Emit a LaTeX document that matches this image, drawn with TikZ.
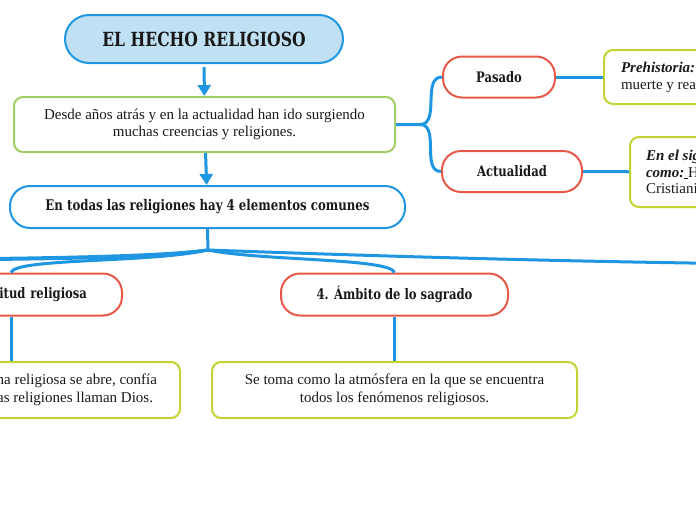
\documentclass[tikz,border=0pt]{standalone}
\usepackage{fontspec}
\setmainfont{Liberation Serif}
\newfontfamily\headfont{DejaVu Serif}[FakeStretch=0.8]
\usetikzlibrary{arrows.meta,positioning}
\definecolor{wire}{RGB}{30,150,225}
\definecolor{sky}{RGB}{192,225,243}
\definecolor{leaf}{RGB}{160,205,100}
\definecolor{lime}{RGB}{195,212,50}
\definecolor{coral}{RGB}{232,88,72}
\definecolor{ink}{RGB}{25,25,25}
\tikzset{
  hub/.style={draw=wire,line width=2pt,fill=sky,rounded corners=24pt,minimum width=278pt,minimum height=48pt,text=ink,font=\headfont\bfseries\fontsize{19.5}{22}\selectfont},
  topic/.style={draw=wire,line width=2pt,rounded corners=20pt,minimum height=42pt,text=ink,font=\headfont\bfseries\fontsize{14.7}{17}\selectfont},
  part/.style={draw=coral,line width=2pt,rounded corners=19pt,minimum height=42pt,text=ink,font=\headfont\bfseries\fontsize{14.5}{17}\selectfont},
  note/.style={draw=lime,line width=2pt,rounded corners=9pt,minimum height=56pt,align=center,text=ink,font=\fontsize{15}{17.5}\selectfont},
  tight/.style={execute at begin node={\spaceskip=.25em\xspaceskip=.3em\relax}},
  link/.style={draw=wire,line width=3pt},
  arr/.style={link,-{Triangle[length=11pt,width=13pt]}},
}
\begin{document}
\begin{tikzpicture}[x=1pt,y=-1pt]
  \useasboundingbox (0,0) rectangle (696,520);
  \clip (0,0) rectangle (696,520);
  \node[hub] (T) at (204,39) {EL HECHO RELIGIOSO};
  \node[note,draw=leaf,minimum width=381pt,minimum height=55pt] (D) at (204.5,124.5)
     {Desde años atrás y en la actualidad han ido surgiendo\\muchas creencias y religiones.};
  \node[topic,minimum width=395pt] (E) at (207.5,207) {En todas las religiones hay 4 elementos comunes};
  % the four elements
  \node[part,text width=152pt,inner xsep=35pt,align=right] (A3) at (11,294.5) {itud religiosa};
  \node[part,minimum width=227pt] (A4) at (394.5,294.5) {4. Ámbito de lo sagrado};
  \node[note,tight,text width=292pt,inner xsep=23pt,align=right] (L3) at (11,390)
     {na religiosa se abre, confía\\as religiones llaman Dios.\hspace*{4pt}};
  \node[note,minimum width=365pt] (L4) at (394.5,390)
     {Se toma como la atmósfera en la que se encuentra\\todos los fenómenos religiosos.};
  % past and present
  \node[part,minimum width=112pt,minimum height=41pt] (P) at (499,77) {Pasado};
  \node[part,minimum width=140pt,minimum height=41pt] (N) at (512,171.5) {Actualidad};
  \node[note,tight,anchor=west,text width=200pt,inner xsep=17pt,align=left,minimum height=54pt,
     font=\fontsize{15}{17}\selectfont] (H) at (603,77)
     {\textbf{\textit{Prehistoria:}}\\muerte y real};
  \node[note,tight,anchor=west,text width=200pt,inner xsep=16pt,align=left,minimum height=70pt,
     font=\fontsize{15}{16.5}\selectfont] (S) at (629,172)
     {\textbf{\textit{En el sig}}\\\textbf{\textit{como:}}\underline{\ }H\\Cristiani};
  \coordinate (J) at (208,250);
  \coordinate (fork) at (420,124.5);
  \coordinate (off1) at (-60,259);
  \coordinate (off2) at (-220,262);
  \coordinate (off3) at (760,264);
  \draw[arr,shorten <=3pt] (T) -- (D);
  \draw[arr] (D) -- (E);
  \draw[link] (E.south) -- (J);
  \draw[link] (J) .. controls (150,263) and (15,258) .. (A3.north);
  \draw[link] (J) .. controls (160,256) and (60,258) .. (off1);
  \draw[link] (J) .. controls (140,258) .. (off2);
  \draw[link] (J) .. controls (262,261) and (390,258) .. (A4.north);
  \draw[link] (J) .. controls (320,254) and (520,261) .. (off3);
  \draw[link] (A3) -- (L3);
  \draw[link] (A4) -- (L4);
  \draw[link] (D.east) -- (fork) to[out=0,in=180] (P.west);
  \draw[link] (fork) to[out=0,in=180] (N.west);
  \draw[link] (P) -- (H);
  \draw[link] (N) -- (S);
\end{tikzpicture}
\end{document}
